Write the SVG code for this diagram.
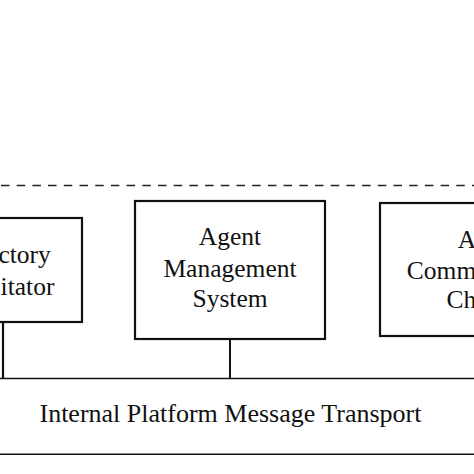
<svg xmlns="http://www.w3.org/2000/svg" width="474" height="474" viewBox="0 0 474 474">
<style>
.box{fill:#fff;stroke:#111;stroke-width:2.2}
.ln{stroke:#111;stroke-width:1.6;fill:none}
.t{font-family:"Liberation Serif","Times New Roman",serif;font-size:25.5px;fill:#111;text-anchor:middle}
</style>
<rect width="474" height="474" fill="#fff"/>
<line x1="0" y1="185.5" x2="474" y2="185.5" stroke="#222" stroke-width="1.4" stroke-dasharray="8.5 7.2" stroke-dashoffset="-1"/>
<g id="connectors">
<line class="ln" x1="3" y1="322" x2="3" y2="378.5" style="stroke-width:2.2"/>
<line class="ln" x1="230" y1="339" x2="230" y2="378.5" style="stroke-width:2"/>
<line class="ln" x1="0" y1="378.5" x2="474" y2="378.5"/>
</g>
<g id="directory-facilitator">
<rect class="box" x="-78" y="218" width="160" height="104"/>
<text class="t" x="2" y="263">Directory</text>
<text class="t" x="2" y="295">Facilitator</text>
</g>
<g id="agent-management-system">
<rect class="box" x="135" y="201" width="190" height="138"/>
<text class="t" x="230" y="245">Agent</text>
<text class="t" x="230" y="277">Management</text>
<text class="t" x="230" y="307">System</text>
</g>
<g id="agent-communication-channel">
<rect class="box" x="380" y="203" width="220" height="133"/>
<text class="t" x="489" y="248">Agent</text>
<text class="t" x="489" y="279">Communication</text>
<text class="t" x="489" y="308">Channel</text>
</g>
<g id="internal-platform-message-transport">
<text class="t" x="230.5" y="422" style="font-size:26px">Internal Platform Message Transport</text>
<line class="ln" x1="0" y1="454.3" x2="474" y2="454.3"/>
</g>
</svg>
